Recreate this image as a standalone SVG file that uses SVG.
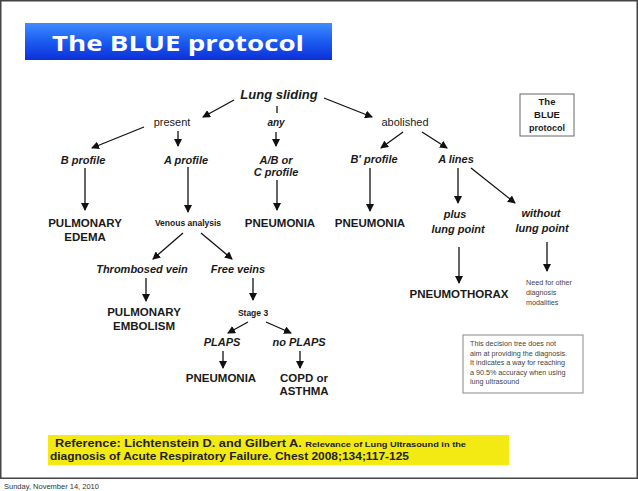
<svg xmlns="http://www.w3.org/2000/svg" width="638" height="491" viewBox="0 0 638 491">
<defs>
<linearGradient id="bg" x1="0" y1="0" x2="0" y2="1"><stop offset="0" stop-color="#3f8cff"/><stop offset="0.5" stop-color="#1a5cf0"/><stop offset="1" stop-color="#0d2fd8"/></linearGradient>
<marker id="ah" markerWidth="8" markerHeight="8" refX="7" refY="4" orient="auto" markerUnits="userSpaceOnUse"><path d="M0,0 L8,4 L0,8 z" fill="#111"/></marker>
</defs>
<style>
text{font-family:"Liberation Sans",Arial,sans-serif;fill:#1a1a1a;text-anchor:middle}
.i{font-style:italic;font-weight:bold;font-size:11px}
.n{font-size:11px}
.b{font-weight:bold;font-size:11.5px}
.s{font-size:7.2px;fill:#444;text-anchor:start}
.c line{stroke:#111;stroke-width:1.3;marker-end:url(#ah)}
</style>
<rect width="638" height="491" fill="#fff"/>
<rect x="0.75" y="0.75" width="636.5" height="477.5" fill="none" stroke="#444" stroke-width="1.5"/>
<g id="title"><rect x="25" y="23" width="307" height="37" fill="url(#bg)"/><text x="178" y="51" textLength="252" lengthAdjust="spacingAndGlyphs" style="font-family:'Open Sans','Liberation Sans',sans-serif;font-weight:bold;font-size:22px;fill:#fff">The BLUE protocol</text></g>
<g class="c">
<line x1="234" y1="100" x2="203" y2="117"/>
<line x1="277" y1="106" x2="277" y2="113" style="marker-end:none"/>
<line x1="324" y1="98" x2="372" y2="117"/>
<line x1="144" y1="127" x2="92" y2="148"/>
<line x1="178" y1="131" x2="178" y2="146"/>
<line x1="276" y1="132" x2="276" y2="146"/>
<line x1="403" y1="132" x2="381" y2="148"/>
<line x1="422" y1="132" x2="447" y2="148"/>
<line x1="85" y1="168" x2="85" y2="210"/>
<line x1="188" y1="167" x2="188" y2="212"/>
<line x1="277" y1="180" x2="277" y2="210"/>
<line x1="370" y1="168" x2="370" y2="211"/>
<line x1="458" y1="168" x2="458" y2="203"/>
<line x1="471" y1="168" x2="515" y2="203"/>
<line x1="183" y1="233" x2="153" y2="259"/>
<line x1="201" y1="233" x2="232" y2="259"/>
<line x1="146" y1="278" x2="146" y2="301"/>
<line x1="253" y1="278" x2="253" y2="300"/>
<line x1="248" y1="322" x2="228" y2="333"/>
<line x1="266" y1="322" x2="291" y2="333"/>
<line x1="223" y1="351" x2="223" y2="368"/>
<line x1="300" y1="351" x2="300" y2="368"/>
<line x1="459" y1="247" x2="459" y2="283"/>
<line x1="547" y1="242" x2="547" y2="271"/>
</g>
<g id="lung"><text x="279" y="99" class="i" style="font-size:13px">Lung sliding</text></g>
<g id="present"><text x="172" y="126" class="n">present</text></g>
<g id="any"><text x="276" y="126" class="i" style="font-size:10px">any</text></g>
<g id="abolished"><text x="405" y="126" class="n">abolished</text></g>
<g id="bprof"><text x="83" y="164" class="i">B profile</text></g>
<g id="aprof"><text x="186" y="164" class="i">A profile</text></g>
<g id="abc"><text x="276" y="164" class="i">A/B or</text><text x="276" y="176" class="i">C profile</text></g>
<g id="bp"><text x="374" y="163" class="i">B' profile</text></g>
<g id="alines"><text x="456" y="163" class="i">A lines</text></g>
<g id="blue"><rect x="520" y="94" width="54" height="42" fill="#fff" stroke="#666"/><text x="547" y="105" class="b" style="font-size:9.5px">The</text><text x="547" y="118" class="b" style="font-size:9.5px">BLUE</text><text x="547" y="131" class="b" style="font-size:9px">protocol</text></g>
<g id="edema"><text x="85" y="227" class="b">PULMONARY</text><text x="85" y="241" class="b">EDEMA</text></g>
<g id="venous"><text x="188" y="226" class="b" style="font-size:8.5px">Venous analysis</text></g>
<g id="pn1"><text x="280" y="227" class="b">PNEUMONIA</text></g>
<g id="pn2"><text x="370" y="227" class="b">PNEUMONIA</text></g>
<g id="plus"><text x="455" y="218" class="i">plus</text><text x="458" y="233" class="i">lung point</text></g>
<g id="without"><text x="541" y="217" class="i">without</text><text x="542" y="232" class="i">lung point</text></g>
<g id="throm"><text x="142" y="273" class="i">Thrombosed vein</text></g>
<g id="free"><text x="238" y="273" class="i">Free veins</text></g>
<g id="pe"><text x="144" y="316" class="b">PULMONARY</text><text x="144" y="330" class="b">EMBOLISM</text></g>
<g id="stage"><text x="253" y="316" class="b" style="font-size:8.5px">Stage 3</text></g>
<g id="plaps"><text x="222" y="346" class="i">PLAPS</text></g>
<g id="noplaps"><text x="299" y="346" class="i">no PLAPS</text></g>
<g id="pn3"><text x="221" y="382" class="b">PNEUMONIA</text></g>
<g id="copd"><text x="304" y="382" class="b">COPD or</text><text x="304" y="395" class="b">ASTHMA</text></g>
<g id="ptx"><text x="459" y="298" class="b">PNEUMOTHORAX</text></g>
<g id="need"><text x="526" y="285" class="s">Need for other</text><text x="526" y="295" class="s">diagnosis</text><text x="526" y="305" class="s">modalities</text></g>
<g id="note"><rect x="463" y="335" width="120" height="58" fill="#fff" stroke="#888"/><text x="470" y="346" class="s">This decision tree does not</text><text x="470" y="355.5" class="s">aim at providing the diagnosis.</text><text x="470" y="365" class="s">It indicates a way for reaching</text><text x="470" y="374.5" class="s">a 90.5% accuracy when using</text><text x="470" y="384" class="s">lung ultrasound</text></g>
<g id="ref"><rect x="48" y="435" width="461" height="30" fill="#f3ea14"/>
<text x="55" y="447" textLength="411" lengthAdjust="spacingAndGlyphs" style="text-anchor:start;font-weight:bold;font-size:11px;fill:#222">Reference: Lichtenstein D.  and Gilbert A. <tspan style="font-size:8px">Relevance of Lung Ultrasound in the</tspan></text>
<text x="50" y="460" textLength="359" lengthAdjust="spacingAndGlyphs" style="text-anchor:start;font-weight:bold;font-size:11px;fill:#222">diagnosis of Acute Respiratory Failure. Chest 2008;134;117-125</text></g>
<text x="4" y="489" style="text-anchor:start;font-size:7.5px;fill:#333">Sunday, November 14, 2010</text>
</svg>
